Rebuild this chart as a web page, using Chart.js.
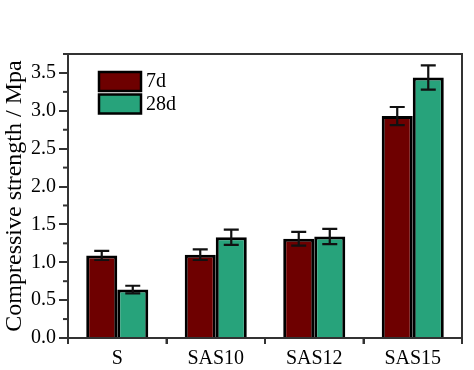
<!DOCTYPE html>
<html>
<head>
<meta charset="utf-8">
<script src="https://cdn.jsdelivr.net/npm/chart.js@4/dist/chart.umd.min.js"></script>
<style>
  html, body { margin: 0; padding: 0; background: #fff; }
  #wrap { width: 474px; height: 370px; }
</style>
</head>
<body>
<div id="wrap"><canvas id="strengthChart" width="474" height="370"></canvas></div>
<script>
// Données
const categories = ['S', 'SAS10', 'SAS12', 'SAS15'];
const strength7d = [1.09, 1.10, 1.31, 2.93];
const strength28d = [0.64, 1.33, 1.34, 3.44];
const err7d = [0.06, 0.07, 0.09, 0.12];
const err28d = [0.05, 0.10, 0.10, 0.16];
const yTicks = [0, 0.5, 1.0, 1.5, 2.0, 2.5, 3.0, 3.5];

const serif = 'Liberation Serif';
const axisColor = '#333';

// barres d'erreur, cadre, petites graduations et légende
const decorations = {
    id: 'decorations',
    afterDatasetsDraw(chart) {
        const ctx = chart.ctx;
        const area = chart.chartArea;
        const x = chart.scales.x;
        const y = chart.scales.y;

        // barres d'erreur
        ctx.save();
        ctx.strokeStyle = '#111';
        ctx.lineWidth = 2.2;
        chart.data.datasets.forEach((ds, di) => {
            const meta = chart.getDatasetMeta(di);
            meta.data.forEach((bar, i) => {
                const v = ds.data[i];
                const e = ds.errors[i];
                const top = y.getPixelForValue(v + e);
                const bot = y.getPixelForValue(v - e);
                const cap = 7.5;
                ctx.beginPath();
                ctx.moveTo(bar.x, top); ctx.lineTo(bar.x, bot);
                ctx.moveTo(bar.x - cap, top); ctx.lineTo(bar.x + cap, top);
                ctx.moveTo(bar.x - cap, bot); ctx.lineTo(bar.x + cap, bot);
                ctx.stroke();
            });
        });
        ctx.restore();

        // cadre haut et droite
        ctx.save();
        ctx.strokeStyle = axisColor;
        ctx.lineWidth = 2;
        ctx.beginPath();
        ctx.moveTo(area.left, area.top);
        ctx.lineTo(area.right, area.top);
        ctx.lineTo(area.right, area.bottom);
        ctx.stroke();

        // petites graduations Y
        for (let k = 0; k < yTicks.length; k++) {
            const py = y.getPixelForValue(yTicks[k] + 0.25);
            ctx.beginPath();
            ctx.moveTo(area.left - 5, py);
            ctx.lineTo(area.left, py);
            ctx.stroke();
        }
        // graduations X entre les catégories
        for (let i = 0; i <= categories.length; i++) {
            const px = x.getPixelForValue(i - 0.5);
            ctx.beginPath();
            ctx.moveTo(px, area.bottom);
            ctx.lineTo(px, area.bottom + 6);
            ctx.stroke();
        }
        ctx.restore();

        // légende
        ctx.save();
        const bx = area.left + 31;
        let by = area.top + 18;
        chart.data.datasets.forEach(ds => {
            ctx.fillStyle = ds.backgroundColor;
            ctx.fillRect(bx, by, 42, 19);
            ctx.strokeStyle = '#000';
            ctx.lineWidth = 2.5;
            ctx.strokeRect(bx, by, 42, 19);
            ctx.fillStyle = '#000';
            ctx.font = '20px "' + serif + '"';
            ctx.textBaseline = 'middle';
            ctx.fillText(ds.label, bx + 47, by + 10);
            by += 22.5;
        });
        ctx.restore();
    }
};

const ctx = document.getElementById('strengthChart').getContext('2d');
new Chart(ctx, {
    type: 'bar',
    data: {
        labels: categories,
        datasets: [
            {
                label: '7d',
                data: strength7d,
                errors: err7d,
                backgroundColor: '#6e0000',
                borderColor: '#000',
                borderWidth: 3,
                barPercentage: 1,
                categoryPercentage: 0.63
            },
            {
                label: '28d',
                data: strength28d,
                errors: err28d,
                backgroundColor: '#27a37b',
                borderColor: '#000',
                borderWidth: 3,
                barPercentage: 1,
                categoryPercentage: 0.63
            }
        ]
    },
    options: {
        responsive: false,
        animation: false,
        layout: { padding: { top: 54, right: 12, left: 0, bottom: 0 } },
        plugins: {
            legend: { display: false },
            tooltip: { enabled: false }
        },
        scales: {
            x: {
                grid: { drawOnChartArea: false, tickLength: 6, color: axisColor, lineWidth: 2 },
                border: { color: axisColor, width: 2 },
                ticks: { color: '#000', font: { family: serif, size: 20 }, padding: 3 },
                afterFit(scale) { scale.height = 32; }
            },
            y: {
                min: 0,
                max: 3.75,
                grid: { drawOnChartArea: false, tickLength: 9, color: axisColor, lineWidth: 2 },
                border: { color: axisColor, width: 2 },
                ticks: {
                    stepSize: 0.5,
                    includeBounds: false,
                    color: '#000',
                    font: { family: serif, size: 20 },
                    padding: 3,
                    callback: v => Number(v).toFixed(1)
                },
                title: {
                    display: true,
                    text: 'Compressive strength / Mpa',
                    color: '#000',
                    font: { family: serif, size: 24 },
                    padding: 0
                },
                afterFit(scale) { scale.width = 68; }
            }
        }
    },
    plugins: [decorations]
});
</script>
</body>
</html>
